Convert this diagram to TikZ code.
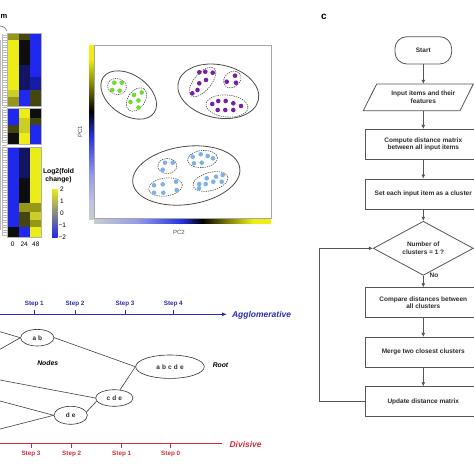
\documentclass[tikz,border=0pt]{standalone}
\usepackage{fontspec}
\setmainfont{Liberation Sans}
\usetikzlibrary{shapes.geometric,arrows.meta}
\definecolor{hy}{RGB}{236,236,24}
\definecolor{hb}{RGB}{32,40,238}
\definecolor{hk}{RGB}{14,14,14}
\definecolor{hn}{RGB}{18,20,100}
\definecolor{ho}{RGB}{150,150,24}
\definecolor{hd}{RGB}{70,70,16}
\definecolor{hl}{RGB}{205,205,40}
\definecolor{hdb}{RGB}{22,28,165}
\definecolor{gdot}{RGB}{110,220,50}
\definecolor{pdot}{RGB}{120,30,165}
\definecolor{bdot}{RGB}{125,178,232}
\definecolor{axblue}{RGB}{45,45,175}
\definecolor{axred}{RGB}{205,45,60}
\definecolor{flgray}{RGB}{85,85,85}
\definecolor{txgray}{RGB}{45,45,45}
\definecolor{pcg}{RGB}{200,204,206}
\definecolor{pclg}{RGB}{190,195,225}
\definecolor{pcper}{RGB}{150,155,235}
\definecolor{pcblue}{RGB}{35,50,220}
\definecolor{pcolive}{RGB}{130,130,10}
\definecolor{pcyel}{RGB}{238,238,20}
\pgfdeclareverticalshading{pcone}{100bp}{color(0bp)=(pcg); color(25bp)=(pcg); color(30bp)=(pclg); color(37.5bp)=(pcper); color(49bp)=(pcblue); color(56bp)=(black); color(63.5bp)=(pcolive); color(71bp)=(pcyel); color(100bp)=(pcyel)}
\pgfdeclarehorizontalshading{pctwo}{100bp}{color(0bp)=(pcg); color(25bp)=(pcg); color(37bp)=(pcper); color(50bp)=(pcblue); color(55.5bp)=(black); color(63bp)=(pcolive); color(70bp)=(pcyel); color(100bp)=(pcyel)}
\newcommand\hmrowcells[5]{%
\fill[#3] (7,#1) rectangle (18.5,#2);
\fill[#4] (18.5,#1) rectangle (30,#2);
\fill[#5] (30,#1) rectangle (41,#2);}
\begin{document}
\begin{tikzpicture}[x=1pt,y=-1pt,
  fl/.style={font=\fontsize{6.5}{7.6}\selectfont\bfseries, text=txgray},
  flbox/.style={fl, draw=flgray, line width=0.8pt, rectangle, minimum width=116.6, minimum height=30, align=center, inner sep=1pt},
  flarrow/.style={draw=flgray, line width=0.8pt, -{Latex[length=4pt,width=4pt]}},
  dnode/.style={ellipse, draw=black!80, line width=0.6pt, inner sep=0pt, font=\fontsize{6.5}{7.6}\selectfont\bfseries, text=txgray},
  dline/.style={draw=black!75, line width=0.6pt},
  steplab/.style={font=\fontsize{6.3}{7.5}\selectfont\bfseries},
  axlab/.style={font=\fontsize{8.5}{10}\selectfont\bfseries\itshape, anchor=west},
  clu/.style={draw=black!70, line width=0.8pt},
  sub/.style={draw=black!70, line width=0.6pt, dash pattern=on 1.3pt off 1pt},
  small/.style={font=\fontsize{6.5}{7.6}\selectfont\bfseries, text=txgray}]
\useasboundingbox (0,0) rectangle (474,474);
\clip (0,0) rectangle (474,474);
\fill[white] (0,0) rectangle (474,474);

% ---------------- panel a: heatmap ----------------
\node[font=\fontsize{7.5}{9}\selectfont\bfseries, anchor=east, inner sep=0pt] (mlab) at (7.5,16) {m};
\draw[black!60, line width=0.5pt] (0,26) .. controls (4,26.5) and (6,28) .. (7,31);
\foreach \yy in {35,37.5,...,235} \draw[gray!55, line width=0.3pt] (2,\yy) -- (6.5,\yy);
\draw[gray!55, line width=0.4pt] (2,34) -- (2,105) (2,109) -- (2,143) (2,148) -- (2,236);
\draw[gray!55, line width=0.4pt] (0.5,40) -- (0.5,230);
% block 1
\hmrowcells{33}{40}{ho}{hd}{hb}
\hmrowcells{40}{65}{hy}{hk}{hb}
\hmrowcells{65}{77}{hy}{hn}{hb}
\hmrowcells{77}{90}{hy}{hn}{hdb}
\hmrowcells{90}{97}{hl}{hb}{hd}
\hmrowcells{97}{106}{ho}{hb}{hd}
% block 2
\hmrowcells{108}{118}{hb}{hy}{hk}
\hmrowcells{118}{125}{hb}{hl}{hd}
\hmrowcells{125}{133}{hd}{hl}{hb}
\hmrowcells{133}{144}{hk}{hy}{hb}
% block 3
\hmrowcells{147}{178}{hb}{hn}{hy}
\hmrowcells{178}{203}{hb}{hk}{hy}
\hmrowcells{203}{212}{hb}{ho}{ho}
\hmrowcells{212}{220}{hb}{hd}{hl}
\hmrowcells{220}{227}{hb}{hd}{ho}
\hmrowcells{227}{237}{hk}{hb}{hy}
\draw[gray!60, line width=0.5pt] (7,33) rectangle (41,106) (7,108) rectangle (41,144) (7,147) rectangle (41,237);
\node[fl, text=black, font=\fontsize{6.5}{7.5}\selectfont] (c0) at (12.7,244) {0};
\node[fl, text=black, font=\fontsize{6.5}{7.5}\selectfont] (c24) at (24.2,244) {24};
\node[fl, text=black, font=\fontsize{6.5}{7.5}\selectfont] (c48) at (35.8,244) {48};
% colorbar
\shade[bottom color=hb, middle color=black, top color=hy] (52,189) rectangle (57.5,237);
\node[fl, text=black, align=center, font=\fontsize{6.8}{7.8}\selectfont\bfseries] (loglab) at (58.5,176) {Log2(fold\\change)};
\node[anchor=west, inner sep=0pt, font=\fontsize{6.5}{7.5}\selectfont] (t2) at (60,189) {2};
\node[anchor=west, inner sep=0pt, font=\fontsize{6.5}{7.5}\selectfont] (t1) at (60,201) {1};
\node[anchor=west, inner sep=0pt, font=\fontsize{6.5}{7.5}\selectfont] (t0) at (60,213) {0};
\node[anchor=west, inner sep=0pt, font=\fontsize{6.5}{7.5}\selectfont] (tm1) at (58.5,225) {−1};
\node[anchor=west, inner sep=0pt, font=\fontsize{6.5}{7.5}\selectfont] (tm2) at (58.5,237) {−2};

% ---------------- panel b: PCA ----------------
\shade[shading=pcone] (89,45) rectangle (94,219);
\shade[shading=pctwo] (94,219) rectangle (271,223.5);
\draw[gray!70, line width=0.7pt] (94,45) rectangle (271,218);
\node[font=\fontsize{6}{7}\selectfont, text=black!70] (pc2) at (179,232) {PC2};
\node[font=\fontsize{6}{7}\selectfont, text=black!70, rotate=90] (pc1) at (80,132) {PC1};
% green cluster
\draw[clu, rotate around={-35:(128.7,95)}] (128.7,95) ellipse [x radius=31, y radius=20];
\draw[sub, rotate around={-15:(117,86.5)}] (117,86.5) ellipse [x radius=9.5, y radius=8];
\draw[sub, rotate around={55:(136.5,99.5)}] (136.5,99.5) ellipse [x radius=13, y radius=8.5];
\foreach \p in {(114.3,82.7),(121.7,82.7),(112.3,90),(119.7,90.7),(134,95),(141.7,92.5),(130.5,102),(138.5,100.5),(138.5,107.5)} \fill[gdot] \p circle (2.3);
% purple cluster
\draw[clu, rotate around={-12:(218.3,91.3)}] (218.3,91.3) ellipse [x radius=41, y radius=26.5];
\draw[sub, rotate around={50:(202.5,82)}] (202.5,82) ellipse [x radius=18, y radius=8.5];
\draw[sub, rotate around={40:(232.3,79.5)}] (232.3,79.5) ellipse [x radius=9.5, y radius=7.5];
\draw[sub, rotate around={-5:(227,106)}] (227,106) ellipse [x radius=21, y radius=11];
\foreach \p in {(199.3,72.3),(205.3,71.7),(212.7,72.7),(206,80),(199.3,83.3),(197.5,90),(192.3,93.3),(226.7,81.7),(235,75.7),(236,82.7),(212.3,104),(218.3,101),(225.7,101),(233.3,103.3),(241,106),(217.7,110),(225.3,110),(233.3,110)} \fill[pdot] \p circle (2.3);
% blue cluster
\draw[clu, rotate around={8:(186.3,175.5)}] (186.3,175.5) ellipse [x radius=54, y radius=29];
\draw[sub] (167.3,166) ellipse [x radius=9.5, y radius=7.5];
\draw[sub, rotate around={5:(202.5,159)}] (202.5,159) ellipse [x radius=15, y radius=8.5];
\draw[sub, rotate around={8:(165.5,187)}] (165.5,187) ellipse [x radius=17, y radius=9];
\draw[sub, rotate around={15:(210.5,181.5)}] (210.5,181.5) ellipse [x radius=18, y radius=9];
\foreach \p in {(165,162.7),(172.7,162.7),(162.7,169.7),(192.7,156.7),(200.7,154.3),(207.7,156),(213,158.3),(194,163.3),(201.7,162.7),(154,185.3),(162.7,184.3),(176,181.7),(154,192.7),(163.3,192.7),(176.7,190),(206.7,178.3),(216,176.7),(222.7,175),(199.3,184),(205.7,184),(213.3,181.7),(221.7,181.7),(199,188.3)} \fill[bdot] \p circle (2.3);

% ---------------- dendrogram ----------------
\coordinate (ag0) at (0,314.3);
\coordinate (ag1) at (227,314.3);
\draw[axblue, line width=0.8pt, -{Latex[length=5pt,width=4pt]}] (ag0) -- (ag1);
\node[axlab, text=axblue] (aglab) at (228.5,314.8) {Agglomerative};
\foreach \xx/\lab in {34.3/1,75/2,125/3,173.3/4} {
  \draw[axblue, line width=0.7pt] (\xx,314.3) -- (\xx,310);
  \node[steplab, text=axblue] (sa\lab) at (\xx,304.3) {Step \lab};
}
\coordinate (dv0) at (0,443.7);
\coordinate (dv1) at (222,443.7);
\draw[axred, line width=0.8pt] (dv0) -- (dv1);
\node[axlab, text=axred] (dvlab) at (226,444.3) {Divisive};
\foreach \xx/\lab in {31/3,71.7/2,121.7/1,170.7/0} {
  \draw[axred, line width=0.7pt] (\xx,443.7) -- (\xx,448);
  \node[steplab, text=axred] (sd\lab) at (\xx,454.3) {Step \lab};
}
\node[dnode, minimum width=33.4, minimum height=16.6] (ab) at (37.3,337.7) {a b};
\node[dnode, minimum width=68.6, minimum height=23.4] (abcde) at (170,366.7) {a\,\,b\,\,c\,\,d\,\,e};
\node[dnode, minimum width=37.4, minimum height=16.6] (cde) at (114.3,398) {c\,\,d\,\,e};
\node[dnode, minimum width=33.4, minimum height=18] (de) at (70.7,415.3) {d\,\,e};
\node[font=\fontsize{6.8}{8}\selectfont\bfseries\itshape] (nodeslab) at (47.7,362.7) {Nodes};
\node[font=\fontsize{6.8}{8}\selectfont\bfseries\itshape] (rootlab) at (220.5,365) {Root};
\coordinate (l1) at (0,331.7);
\coordinate (l2) at (0,349.3);
\coordinate (l3) at (0,380);
\coordinate (l4) at (0,401);
\coordinate (l5) at (0,429);
\draw[dline] (l1) -- (ab.west);
\draw[dline] (l2) -- (ab.west);
\draw[dline] (ab.east) -- (abcde.west);
\draw[dline] (l3) -- (cde.west);
\draw[dline] (l4) -- (de.west);
\draw[dline] (l5) -- (de.west);
\draw[dline] (de.12) -- (cde.190);
\draw[dline] (cde.55) -- (abcde.west);

% ---------------- panel c: flowchart ----------------
\node[font=\fontsize{10}{12}\selectfont\bfseries] (clab) at (324,17.3) {c};
\node[flbox, rounded corners=12pt, minimum width=56.7, minimum height=27.3] (start) at (423.3,50.35) {Start};
\draw[draw=flgray, line width=0.8pt] (363.3,110.7) -- (460,110.7) -- (473.3,84) -- (376.7,84) -- cycle;
\node[fl, align=center, minimum height=26.7, minimum width=90, inner sep=0pt] (inp) at (423.3,97.35) {Input items and their\\features};
\node[flbox] (comp) at (423.3,144.3) {Compute distance matrix\\between all input items};
\node[flbox] (setc) at (423.3,194) {Set each input item as a cluster};
\node[fl, diamond, draw=flgray, line width=0.8pt, minimum width=100, minimum height=40, inner sep=0pt, align=center] (dia) at (423.3,248.3) {Number of\\clusters = 1 ?};
\node[flbox] (cmp) at (423.3,302.7) {Compare distances between\\all clusters};
\node[flbox] (mrg) at (423.3,352.3) {Merge two closest clusters};
\node[flbox] (upd) at (423.3,401.7) {Update distance matrix};
\node[fl] (nolab) at (434,275.7) {No};
\draw[flarrow] (start.south) -- (inp.north);
\draw[flarrow] (inp.south) -- (comp.north);
\draw[flarrow] (comp.south) -- (setc.north);
\draw[flarrow] (setc.south) -- (dia.north);
\draw[flarrow] (dia.south) -- (cmp.north);
\draw[flarrow] (cmp.south) -- (mrg.north);
\draw[flarrow] (mrg.south) -- (upd.north);
\draw[flarrow] (upd.west) -- ++(-45,0) |- (dia.west);
\end{tikzpicture}
\end{document}
